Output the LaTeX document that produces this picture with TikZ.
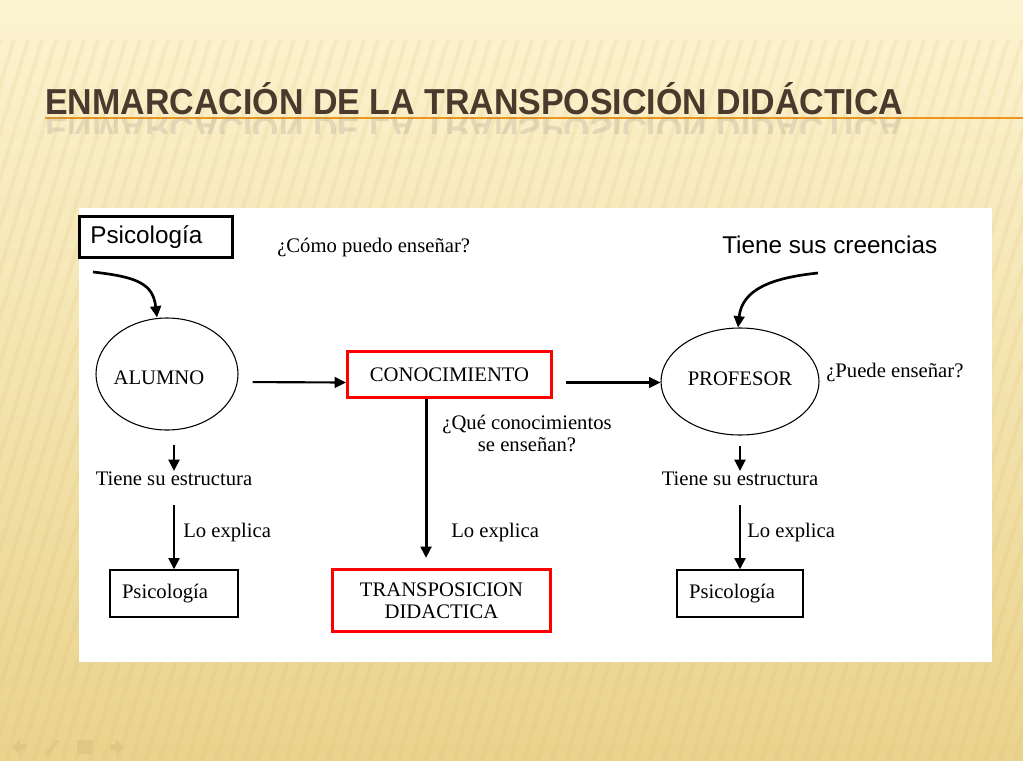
\documentclass[tikz,border=0pt]{standalone}
\usepackage{graphicx}
\usepackage{fontspec}
\setmainfont{Liberation Serif}
\newfontfamily\sansfont{Liberation Sans}
\usetikzlibrary{arrows.meta,shapes.geometric,positioning}

\definecolor{bgtop}{RGB}{252,243,208}
\definecolor{bgbot}{RGB}{234,211,140}
\definecolor{stripecol}{RGB}{214,182,100}
\definecolor{titlecol}{RGB}{74,58,45}
\definecolor{ruleorange}{RGB}{236,150,30}
\definecolor{navcol}{RGB}{222,200,130}

\tikzset{
  txt/.style={font=\fontsize{15.5}{16.5}\selectfont, inner sep=0pt},
  stxt/.style={font=\sansfont\fontsize{18.2}{20}\selectfont, inner sep=0pt},
  oval/.style={ellipse, draw, line width=0.8pt, inner sep=0pt, txt},
  redbox/.style={draw=red, line width=2.25pt, txt, align=center},
  psibox/.style={draw, line width=0.8pt, txt, align=left, inner xsep=9pt,
    minimum height=35.25pt},
  arr/.style={-{Triangle[length=8.5pt,width=8pt]}, line width=1.6pt},
  arrv/.style={arr, line width=2.2pt},
  carr/.style={arr, line width=2pt},
  stripe/.style={stripecol, line width=3pt, opacity=0.12},
}

\begin{document}
\begin{tikzpicture}[x=0.75pt, y=-0.75pt]
\useasboundingbox (0,0) rectangle (1023,760);

% slide background
\shade[top color=bgtop, bottom color=bgbot] (0,0) rectangle (1023,760);
\begin{scope}
  \clip (0,40) rectangle (1023,760);
  \foreach \x in {-260,-246,...,1023}
    \draw[stripe] (\x,760) -- ({\x+230},0);
\end{scope}

% title
\draw[ruleorange, line width=1.1pt] (45,118) -- (1023,118);
\node[anchor=south west, inner sep=0pt, text=titlecol] (title) at (45,115)
  {\resizebox{643.5pt}{24pt}{\sansfont\bfseries ENMARCACIÓN DE LA TRANSPOSICIÓN DIDÁCTICA}};
\begin{scope}
  \clip (40,117) rectangle (910,133);
  \node[anchor=north west, inner sep=0pt, text=gray, opacity=0.2] (titlerefl) at (45,117)
    {\scalebox{1}[-1]{\resizebox{643.5pt}{24pt}{\sansfont\bfseries ENMARCACIÓN DE LA TRANSPOSICIÓN DIDÁCTICA}}};
\end{scope}

% white panel
\fill[white] (79,208) rectangle (992,662);

% main nodes
\node[oval, minimum width=106.5pt, minimum height=84pt] (alumno) at (167,374)
  {\makebox[0pt]{\raisebox{-7.7pt}[0pt][0pt]{\hspace*{-12pt}ALUMNO}}};
\node[redbox, minimum width=153pt, minimum height=34.5pt] (conoc) at (449.5,374.5) {CONOCIMIENTO};
\node[oval, minimum width=118.5pt, minimum height=80.25pt] (profesor) at (740,381.5)
  {\makebox[0pt]{\raisebox{-2.9pt}[0pt][0pt]{PROFESOR}}};
\node[redbox, minimum width=163.5pt, minimum height=46.5pt] (transp) at (441.5,600.5)
  {TRANSPOSICION\\DIDACTICA};
\node[psibox, text width=78pt] (psiA) at (174,593.5) {Psicología};
\node[psibox, text width=76.5pt] (psiB) at (740,593.5) {Psicología};
\node[draw, line width=1.9pt, stxt, align=left, inner xsep=8pt, text width=98.4pt,
  minimum height=30.4pt] (psiTop) at (156,237) {Psicología};

% labels
\node[txt, anchor=base west] (comoq) at (277,252) {¿Cómo puedo enseñar?};
\node[stxt, anchor=base west] (creencias) at (722,253) {Tiene sus creencias};
\node[txt, anchor=base west] (puedeq) at (826,377) {¿Puede enseñar?};
\node[txt, align=center] (queq) at (527,433) {¿Qué conocimientos\\se enseñan?};
\node[txt, anchor=base] (estrA) at (174,485) {Tiene su estructura};
\node[txt, anchor=base] (estrB) at (740,485) {Tiene su estructura};
\node[txt, anchor=base west] (explA) at (183,537) {Lo explica};
\node[txt, anchor=base west] (explM) at (451,537) {Lo explica};
\node[txt, anchor=base west] (explB) at (747,537) {Lo explica};

% curved arrows
\coordinate (psiTail) at (93,272);
\coordinate (creeTail) at (818,273);
\draw[carr] (psiTail) .. controls (138,277) and (153,284) .. ([xshift=-7.5pt]alumno.north);
\draw[carr] (creeTail) .. controls (770,278) and (742,290) .. ([xshift=-1.5pt]profesor.north);

% horizontal arrows
\draw[arr, shorten <=10.5pt] ([yshift=-6pt]alumno.east) -- ([yshift=-6pt]conoc.west);
\draw[arr, shorten <=10pt] ([yshift=-6pt]conoc.east) -- ([yshift=-6pt]conoc.east -| profesor.west);

% vertical arrows
\draw[arrv, shorten <=11pt] (estrA.north |- alumno.south) -- (estrA.north);
\draw[arrv, shorten <=15pt] (estrA.south) -- (psiA.north);
\draw[arrv, shorten >=7.5pt] ([xshift=-17.6pt]conoc.south) -- ([xshift=-17.6pt]conoc.south |- transp.north);
\draw[arrv, shorten <=7.5pt] (estrB.north |- profesor.south) -- (estrB.north);
\draw[arrv, shorten <=15pt] (estrB.south) -- (psiB.north);

% navigation icons
\fill[navcol] (12,747) -- (20,739) -- (20,744) -- (26,744) -- (26,750) -- (20,750) -- (20,755) -- cycle;
\draw[navcol, line width=2.5pt, line cap=round] (46,754) -- (58,741);
\fill[navcol] (77,740) rectangle (93,754);
\fill[navcol] (124,747) -- (116,739) -- (116,744) -- (110,744) -- (110,750) -- (116,750) -- (116,755) -- cycle;
\end{tikzpicture}
\end{document}
